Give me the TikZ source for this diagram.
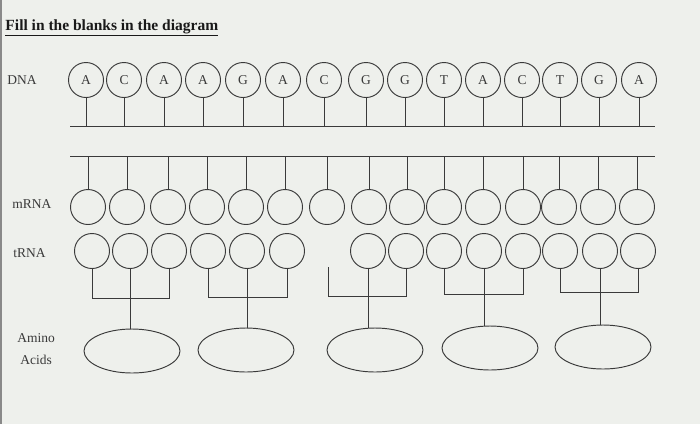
\documentclass[tikz,border=0pt]{standalone}
\usepackage{fontspec}
\setmainfont{Liberation Serif}
\usetikzlibrary{shapes.geometric}
\definecolor{ink}{HTML}{3A3A3A}
\definecolor{paper}{HTML}{EEF0EC}
\begin{document}
\begin{tikzpicture}[x=1pt,y=-1pt,line width=0.95pt,
  base/.style={circle,draw=ink,minimum size=35pt,inner sep=0pt,text=ink,font=\fontsize{13.5}{13.5}\selectfont},
  amino/.style={ellipse,draw=ink,minimum width=96pt,minimum height=44pt,inner sep=0pt},
  lbl/.style={anchor=west,text=ink,font=\fontsize{13.5}{13.5}\selectfont,inner sep=0pt},
  wire/.style={draw=ink}]
\useasboundingbox (0,0) rectangle (700,424);
\fill[paper] (0,0) rectangle (700,424);
\fill[ink!60] (0,0) rectangle (2,424);
% title
\node[anchor=west,inner sep=0pt,text=black!90,font=\fontsize{15.5}{16}\selectfont\bfseries] (title) at (5,28) {\underline{Fill in the blanks in the diagram}};
% labels
\node[lbl] (lDNA) at (7,80) {DNA};
\node[lbl] (lmRNA) at (12,204) {mRNA};
\node[lbl] (ltRNA) at (13,253) {tRNA};
\node[lbl] (lAmino) at (17,338) {Amino};
\node[lbl] (lAcids) at (20,360) {Acids};
% DNA
\coordinate (dnaL) at (70,126);
\coordinate (dnaR) at (655,126);
\draw[wire] (dnaL) -- (dnaR);
\foreach \x/\l [count=\i] in {86/A,124/C,164/A,203/A,243/G,283/A,324/C,366/G,405/G,444/T,483/A,522/C,560/T,599/G,639/A}{
  \node[base] (d\i) at (\x,80) {\l};
  \draw[wire] (d\i.south) -- (d\i.south |- dnaL);
}
% mRNA
\coordinate (mL) at (70,156);
\coordinate (mR) at (655,156);
\draw[wire] (mL) -- (mR);
\foreach \x [count=\i] in {88,127,168,207,246,285,327,369,407,444,483,523,559,598,637}{
  \node[base] (m\i) at (\x,207) {};
  \draw[wire] (m\i.north) -- (m\i.north |- mL);
}
% tRNA
\foreach \x/\i in {92/1,130/2,169/3,208/4,247/5,287/6,368/8,406/9,444/10,484/11,523/12,560/13,600/14,638/15}{
  \node[base] (t\i) at (\x,251) {};
}
\node[inner sep=0pt,minimum size=0pt] (t7) at (328,267) {};
% amino acids
\node[amino] (a1) at (132,351) {};
\node[amino] (a2) at (246,350) {};
\node[amino] (a3) at (375,350) {};
\node[amino] (a4) at (490,348) {};
\node[amino] (a5) at (603,347) {};
% brackets
\foreach \a/\b/\c/\y/\e in {1/2/3/298/1,4/5/6/297/2,7/8/9/296/3,10/11/12/294/4,13/14/15/292/5}{
  \coordinate (bar\e) at (0,\y);
  \draw[wire] (t\a.south) -- (t\a.south |- bar\e) -- (t\c.south |- bar\e) -- (t\c.south);
  \draw[wire] (t\b.south) -- (t\b.south |- a\e.north);
}
\end{tikzpicture}
\end{document}
